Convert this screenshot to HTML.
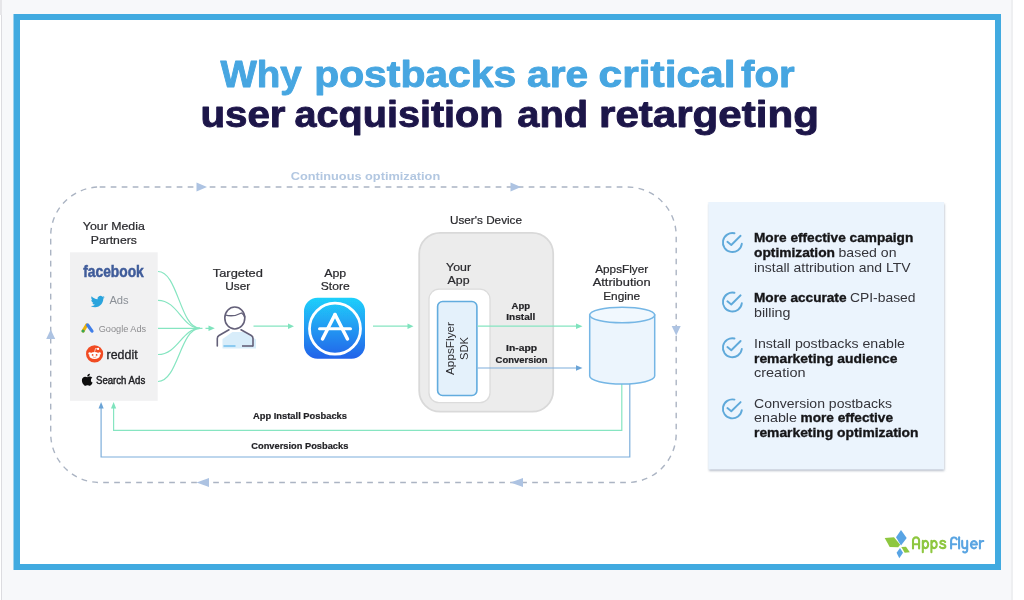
<!DOCTYPE html>
<html>
<head>
<meta charset="utf-8">
<title>Why postbacks are critical</title>
<style>
  html, body { margin: 0; padding: 0; }
  body { width: 1024px; height: 600px; overflow: hidden; background: #f7f8fa; font-family: "Liberation Sans", sans-serif; }
  svg { position: absolute; left: 0; top: 0; display: block; }
  text { font-family: "Liberation Sans", sans-serif; }
</style>
</head>
<body>
<svg width="1024" height="600" viewBox="0 0 1024 600">
  <defs>
    <linearGradient id="asg" x1="0" y1="0" x2="0" y2="1">
      <stop offset="0" stop-color="#1fd0fb"/>
      <stop offset="1" stop-color="#2262e9"/>
    </linearGradient>
    <filter id="soft" x="-5%" y="-5%" width="110%" height="110%">
      <feGaussianBlur stdDeviation="0.55"/>
    </filter>
    <filter id="pshadow" x="-5%" y="-5%" width="110%" height="112%">
      <feGaussianBlur stdDeviation="0.8"/>
    </filter>
  </defs>

  <!-- page chrome -->
  <rect x="0" y="0" width="1024" height="600" fill="#f7f8fa"/>
  <rect x="1013" y="0" width="11" height="600" fill="#ffffff"/>
  <rect x="1011" y="0" width="2" height="600" fill="#eeeff1"/>
  <rect x="0" y="0" width="2" height="15" fill="#e6e6e9"/>
  <rect x="0" y="15" width="1" height="585" fill="#ffffff"/>
  <rect x="1" y="15" width="1" height="585" fill="#dcdce0"/>

  <!-- slide frame -->
  <rect x="13.5" y="14" width="987.5" height="556" fill="#41aae0"/>
  <rect x="20" y="20" width="975" height="544" fill="#ffffff"/>

  <g filter="url(#soft)">
  <!-- TITLE -->
  <g id="title" font-weight="bold" font-size="36" stroke-width="0.9" stroke-linejoin="round">
    <text x="220.5" y="86.5" fill="#46a6e1" stroke="#46a6e1" textLength="81.3" lengthAdjust="spacingAndGlyphs">Why</text>
    <text x="314.2" y="86.5" fill="#46a6e1" stroke="#46a6e1" textLength="202" lengthAdjust="spacingAndGlyphs">postbacks</text>
    <text x="527.1" y="86.5" fill="#46a6e1" stroke="#46a6e1" textLength="61.0" lengthAdjust="spacingAndGlyphs">are</text>
    <text x="598.6" y="86.5" fill="#46a6e1" stroke="#46a6e1" textLength="136.9" lengthAdjust="spacingAndGlyphs">critical</text>
    <text x="741.1" y="86.5" fill="#46a6e1" stroke="#46a6e1" textLength="53.5" lengthAdjust="spacingAndGlyphs">for</text>
    <text x="200.4" y="127.3" fill="#1e1449" stroke="#1e1449" textLength="85.1" lengthAdjust="spacingAndGlyphs">user</text>
    <text x="294.5" y="127.3" fill="#1e1449" stroke="#1e1449" textLength="209.0" lengthAdjust="spacingAndGlyphs">acquisition</text>
    <text x="517.3" y="127.3" fill="#1e1449" stroke="#1e1449" textLength="70.8" lengthAdjust="spacingAndGlyphs">and</text>
    <text x="599.0" y="127.3" fill="#1e1449" stroke="#1e1449" textLength="219.9" lengthAdjust="spacingAndGlyphs">retargeting</text>
  </g>

  <!-- DIAGRAM -->
  <g id="diagram">
    <!-- dashed loop -->
    <rect x="50.7" y="187" width="625.5" height="295.5" rx="49" ry="49" fill="none" stroke="#abb4c3" stroke-width="1.4" stroke-dasharray="5.7 5.3"/>
    <text x="290.7" y="180" font-size="11" font-weight="bold" fill="#b2c7e1" textLength="149.5" lengthAdjust="spacingAndGlyphs">Continuous optimization</text>
    <!-- loop arrows -->
    <g fill="#adc3e2">
      <polygon points="196.5,182.5 207,187 196.5,191.5"/>
      <polygon points="510.5,182.5 521,187 510.5,191.5"/>
      <polygon points="209,478 196.5,482.5 209,487"/>
      <polygon points="523,478 510.5,482.5 523,487"/>
      <polygon points="46.2,339 50.7,329.5 55.2,339"/>
      <polygon points="671.7,326 676.2,335.5 680.7,326"/>
    </g>

    <!-- user's device -->
    <rect x="419.2" y="232.8" width="134" height="178.9" rx="21" ry="21" fill="#ececec" stroke="#d9d9d9" stroke-width="1.8"/>
    <rect x="429" y="289.2" width="61" height="113.5" rx="10" ry="10" fill="#ffffff" stroke="#dcdcdc" stroke-width="1.3"/>
    <rect x="437.6" y="301.5" width="39.3" height="94" rx="5" ry="5" fill="#e4f1fb" stroke="#62acde" stroke-width="1.6"/>

    <!-- media partners -->
    <g font-size="11.5" fill="#2a2a2e" stroke="#2a2a2e" stroke-width="0.22" text-anchor="middle">
      <text x="113.8" y="229.6" textLength="62" lengthAdjust="spacingAndGlyphs">Your Media</text>
      <text x="113.8" y="243.7" textLength="46" lengthAdjust="spacingAndGlyphs">Partners</text>
      <text x="237.8" y="276.5" textLength="50" lengthAdjust="spacingAndGlyphs">Targeted</text>
      <text x="237.8" y="289.8" textLength="25" lengthAdjust="spacingAndGlyphs">User</text>
      <text x="335.2" y="276.5" textLength="22" lengthAdjust="spacingAndGlyphs">App</text>
      <text x="335.2" y="289.8" textLength="29" lengthAdjust="spacingAndGlyphs">Store</text>
      <text x="486" y="223.6" textLength="72" lengthAdjust="spacingAndGlyphs">User's Device</text>
      <text x="458.6" y="271.3" textLength="25" lengthAdjust="spacingAndGlyphs">Your</text>
      <text x="458.6" y="284" textLength="22" lengthAdjust="spacingAndGlyphs">App</text>
      <text x="621.7" y="273" textLength="53" lengthAdjust="spacingAndGlyphs">AppsFlyer</text>
      <text x="621.7" y="286.2" textLength="58" lengthAdjust="spacingAndGlyphs">Attribution</text>
      <text x="621.7" y="299.5" textLength="37" lengthAdjust="spacingAndGlyphs">Engine</text>
    </g>

    <rect x="70" y="252.3" width="87.7" height="148.5" fill="#f1f1f2"/>

    <!-- facebook -->
    <text x="83.2" y="277.4" font-size="15.8" font-weight="bold" fill="#3f5b9a" stroke="#3f5b9a" stroke-width="0.5" textLength="60.6" lengthAdjust="spacingAndGlyphs">facebook</text>
    <!-- twitter -->
    <g transform="translate(90.7,294.5) scale(0.583)">
      <path fill="#2ba4dd" d="M23.953 4.57a10 10 0 01-2.825.775 4.958 4.958 0 002.163-2.723c-.951.555-2.005.959-3.127 1.184a4.92 4.92 0 00-8.384 4.482C7.69 8.095 4.067 6.13 1.64 3.162a4.822 4.822 0 00-.666 2.475c0 1.71.87 3.213 2.188 4.096a4.904 4.904 0 01-2.228-.616v.06a4.923 4.923 0 003.946 4.827 4.996 4.996 0 01-2.212.085 4.936 4.936 0 004.604 3.417 9.867 9.867 0 01-6.102 2.105c-.39 0-.779-.023-1.17-.067a13.995 13.995 0 007.557 2.209c9.053 0 13.998-7.496 13.998-13.985 0-.21 0-.42-.015-.63A9.935 9.935 0 0024 4.59z"/>
    </g>
    <text x="109.4" y="304" font-size="11.5" fill="#8b9097" textLength="19.3" lengthAdjust="spacingAndGlyphs">Ads</text>
    <!-- google ads -->
    <g>
      <path d="M86.7 325 L83.1 331" stroke="#e9b10a" stroke-width="3.2" stroke-linecap="round" fill="none"/>
      <circle cx="83.1" cy="331" r="1.6" fill="#34a853"/>
      <path d="M87.6 325 L92 331.1" stroke="#3f7ee8" stroke-width="3.2" stroke-linecap="round" fill="none"/>
    </g>
    <text x="98.7" y="331.5" font-size="9" fill="#8c8c8f" textLength="47.5" lengthAdjust="spacingAndGlyphs">Google Ads</text>
    <!-- reddit -->
    <g transform="translate(0.5,0.3)">
      <circle cx="94.1" cy="353.6" r="8.6" fill="#f14b24"/>
      <ellipse cx="94.1" cy="355.2" rx="5.3" ry="3.6" fill="#ffffff"/>
      <circle cx="89.2" cy="353.2" r="1.3" fill="#ffffff"/>
      <circle cx="99" cy="353.2" r="1.3" fill="#ffffff"/>
      <circle cx="97.6" cy="348.6" r="1.1" fill="#ffffff"/>
      <path d="M94.1 351.6 L95 348.2 L97.6 348.7" stroke="#ffffff" stroke-width="0.7" fill="none"/>
      <circle cx="92.1" cy="354.6" r="0.9" fill="#f14b24"/>
      <circle cx="96.1" cy="354.6" r="0.9" fill="#f14b24"/>
      <path d="M92.3 356.6 Q94.1 357.8 95.9 356.6" stroke="#f14b24" stroke-width="0.5" fill="none"/>
    </g>
    <text x="106.6" y="358.8" font-size="12.5" fill="#222226" stroke="#222226" stroke-width="0.3" textLength="31" lengthAdjust="spacingAndGlyphs">reddit</text>
    <!-- apple search ads -->
    <g transform="translate(81.9,373.7) scale(0.0132,0.0121)">
      <path fill="#0b0b0c" d="M788.1 340.9c-5.8 4.500-108.200 62.200-108.200 190.500 0 148.400 130.300 200.900 134.200 202.200-0.600 3.200-20.700 71.900-68.700 141.900-42.800 61.600-87.500 123.100-155.500 123.100s-85.500-39.500-164-39.500c-76.500 0-103.700 40.800-165.900 40.800s-105.600-57-155.500-127c-57.800-82.200-104.500-209.900-104.500-331.100 0-194.400 126.400-297.500 250.800-297.500 66.100 0 121.200 43.400 162.700 43.400 39.500 0 101.100-46 176.300-46 28.500 0 130.900 2.600 198.300 99.200zM554.100 159.400c31.100-36.900 53.100-88.100 53.100-139.300 0-7.100-0.600-14.300-1.900-20.100-50.600 1.900-110.800 33.700-147.100 75.800-28.500 32.400-55.100 83.600-55.100 135.500 0 7.800 1.300 15.600 1.900 18.100 3.200 0.600 8.400 1.300 13.600 1.300 45.400 0 102.500-30.400 135.500-71.300z"/>
    </g>
    <text x="96" y="384" font-size="10" fill="#202024" stroke="#202024" stroke-width="0.4" textLength="49.2" lengthAdjust="spacingAndGlyphs">Search Ads</text>

    <!-- green fan-in curves -->
    <g fill="none" stroke="#86e5c1" stroke-width="1.2">
      <path d="M158 271.5 C 178 271.5, 180 328.3, 200 328.3"/>
      <path d="M158 300.3 C 178 300.3, 182 328.3, 200 328.3"/>
      <path d="M158 328.3 L 202.5 328.3 M205.5 328.3 L 209 328.3"/>
      <path d="M158 354.5 C 178 354.5, 182 328.3, 200 328.3"/>
      <path d="M158 381.5 C 178 381.5, 180 328.3, 200 328.3"/>
      <path d="M253.5 326.2 L 290 326.2"/>
      <path d="M373 326.2 L 410 326.2"/>
      <path d="M477.5 326.2 L 578 326.2"/>
      <path d="M621.8 384 L 621.8 430.3 L 113.6 430.3 L 113.6 407"/>
    </g>
    <g fill="#7fe3bd">
      <polygon points="208.5,325.6 214.8,328.3 208.5,331"/>
      <polygon points="288,323.5 294,326.2 288,328.9"/>
      <polygon points="407.5,323.5 413.5,326.2 407.5,328.9"/>
      <polygon points="576,323.5 582.5,326.2 576,328.9"/>
      <polygon points="111,408.5 113.6,402 116.2,408.5"/>
    </g>
    <!-- blue lines -->
    <g fill="none" stroke="#7eaedb" stroke-width="1.2">
      <path d="M477.5 368 L 578 368"/>
      <path d="M629.8 383.5 L 629.8 457 L 101.1 457 L 101.1 407"/>
    </g>
    <g fill="#6aa3d6">
      <polygon points="576,365.3 582.5,368 576,370.7"/>
      <polygon points="98.5,408.5 101.1,402 103.7,408.5"/>
    </g>

    <!-- user icon -->
    <g>
      <path d="M222.5 348.5 L222.5 339 L232.5 332 L244 332 L256 339.5 L256 348.5 Z" fill="#d8edfa"/>
      <ellipse cx="234.8" cy="318" rx="10" ry="11" fill="#ffffff" stroke="#646079" stroke-width="1.6"/>
      <path d="M225 314.8 Q 233 317.5 241.5 313 Q 244 314.5 245 317.5" fill="none" stroke="#646079" stroke-width="1.4"/>
      <path d="M217.3 346 L217.3 338.5 Q217.3 336.5 219 335.5 L229 329.8" fill="none" stroke="#646079" stroke-width="1.6" stroke-linecap="round"/>
      <path d="M253 346 L253 338.5 Q253 336.5 251.3 335.5 L241 329.8" fill="none" stroke="#646079" stroke-width="1.6" stroke-linecap="round"/>
      <path d="M223.5 346 L235.5 346" stroke="#7ec3ee" stroke-width="1.7" fill="none"/>
      <path d="M242 346 L253 346" stroke="#646079" stroke-width="1.6" fill="none"/>
    </g>

    <!-- app store icon -->
    <g>
      <rect x="304" y="297.8" width="61" height="61" rx="13.5" ry="13.5" fill="url(#asg)"/>
      <circle cx="335" cy="328.7" r="25.5" fill="none" stroke="#ffffff" stroke-width="2.8"/>
      <g stroke="#ffffff" stroke-width="3.5" stroke-linecap="round" fill="none">
        <path d="M335 314.5 L322.5 339"/>
        <path d="M335 314.5 L347.5 339"/>
        <path d="M319.5 328.7 L350.5 328.7" stroke-width="3"/>
      </g>
    </g>

    <!-- device labels -->
    <g font-size="11.5" fill="#2a2a2e" text-anchor="middle">
      <text transform="translate(453.8,348.5) rotate(-90)" textLength="53" lengthAdjust="spacingAndGlyphs">AppsFlyer</text>
      <text transform="translate(468,348.5) rotate(-90)" textLength="23" lengthAdjust="spacingAndGlyphs">SDK</text>
    </g>
    <g font-size="9.2" font-weight="bold" fill="#222226" stroke="#222226" stroke-width="0.2" text-anchor="middle">
      <text x="520.8" y="308.7" textLength="18.5" lengthAdjust="spacingAndGlyphs">App</text>
      <text x="520.8" y="319.6" textLength="29" lengthAdjust="spacingAndGlyphs">Install</text>
      <text x="521.6" y="351.2" textLength="31" lengthAdjust="spacingAndGlyphs">In-app</text>
      <text x="521.6" y="362.5" textLength="52" lengthAdjust="spacingAndGlyphs">Conversion</text>
      <text x="300" y="418.9" textLength="94" lengthAdjust="spacingAndGlyphs">App Install Posbacks</text>
      <text x="299.8" y="448.5" textLength="97" lengthAdjust="spacingAndGlyphs">Conversion Posbacks</text>
    </g>

    <!-- cylinder -->
    <g stroke="#74b6e5" stroke-width="1.5">
      <path d="M589.7 315 L589.7 376 A32.5 8 0 0 0 654.7 376 L654.7 315 Z" fill="#ecf5fd"/>
      <ellipse cx="622.2" cy="315" rx="32.5" ry="7.8" fill="#f1f8fe"/>
    </g>
  </g>

  <!-- RIGHT PANEL -->
  <g id="panel">
    <rect x="709" y="204" width="235.3" height="266.8" fill="#aeb6c2" filter="url(#pshadow)"/>
    <rect x="708.3" y="202" width="235.7" height="267.5" fill="#ebf4fd"/>
    <g fill="none" stroke="#5fa9da" stroke-width="1.9" stroke-linecap="round" stroke-linejoin="round">
      <g id="chk">
        <path d="M734.5 233.3 A9.5 9.5 0 1 0 741.8 243.8"/>
        <path d="M727.4 241.8 L731.3 245 L740.6 235.8"/>
      </g>
      <use href="#chk" y="59.5"/>
      <use href="#chk" y="105.2"/>
      <use href="#chk" y="166.3"/>
    </g>
    <g font-size="13" fill="#34343a">
      <text x="754" y="242" font-weight="bold" fill="#141418" stroke="#141418" stroke-width="0.35" textLength="159.3" lengthAdjust="spacingAndGlyphs">More effective campaign</text>
      <text x="754" y="256.8"><tspan font-weight="bold" fill="#141418" stroke="#141418" stroke-width="0.35" textLength="81" lengthAdjust="spacingAndGlyphs">optimization</tspan><tspan dx="3.5" textLength="58" lengthAdjust="spacingAndGlyphs">based on</tspan></text>
      <text x="754" y="272" textLength="156.5" lengthAdjust="spacingAndGlyphs">install attribution and LTV</text>

      <text x="754" y="302"><tspan font-weight="bold" fill="#141418" stroke="#141418" stroke-width="0.35" textLength="92.5" lengthAdjust="spacingAndGlyphs">More accurate</tspan><tspan dx="3.5" textLength="65.5" lengthAdjust="spacingAndGlyphs">CPI-based</tspan></text>
      <text x="754" y="317.3" textLength="36.5" lengthAdjust="spacingAndGlyphs">billing</text>

      <text x="754" y="347.5" textLength="151" lengthAdjust="spacingAndGlyphs">Install postbacks enable</text>
      <text x="754" y="362.6" font-weight="bold" fill="#141418" stroke="#141418" stroke-width="0.35" textLength="143.5" lengthAdjust="spacingAndGlyphs">remarketing audience</text>
      <text x="754" y="377" textLength="51.5" lengthAdjust="spacingAndGlyphs">creation</text>

      <text x="754" y="408" textLength="138" lengthAdjust="spacingAndGlyphs">Conversion postbacks</text>
      <text x="754" y="422.3"><tspan textLength="43" lengthAdjust="spacingAndGlyphs">enable</tspan><tspan dx="3.5" font-weight="bold" fill="#141418" stroke="#141418" stroke-width="0.35" textLength="92.5" lengthAdjust="spacingAndGlyphs">more effective</tspan></text>
      <text x="754" y="437.4" font-weight="bold" fill="#141418" stroke="#141418" stroke-width="0.35" textLength="164.5" lengthAdjust="spacingAndGlyphs">remarketing optimization</text>
    </g>
  </g>

  <!-- APPSFLYER LOGO -->
  <g id="logo">
    <polygon points="884.7,538 894,537.3 900.2,544.7 898.2,547.2 889.7,547" fill="#8ec73f"/>
    <polygon points="901,530 906.7,538 901,545.5 896,537.3" fill="#58a4e4"/>
    <polygon points="901.3,547 906,546.8 909.8,552.3 904.7,552.8" fill="#8ec73f"/>
    <polygon points="900,548 903,552.7 899.3,558.3 896.6,552.7" fill="#58a4e4"/>
    <g fill="none" stroke-width="2.1" stroke-linecap="round" stroke-linejoin="round">
      <g stroke="#8ec73f">
        <path d="M913 548.4 V540.6 A3.05 3.2 0 0 1 919.1 540.6 V548.4 M913 544.3 H919.1"/>
        <path d="M922.8 540.9 V552.3 M922.8 544.4 A2.7 3.6 0 1 1 922.8 544.5"/>
        <path d="M931.4 540.9 V552.3 M931.4 544.4 A2.7 3.6 0 1 1 931.4 544.5"/>
        <path d="M945.2 542 C944.4 540.4 940.5 540.3 940.4 542.5 C940.3 544.7 945.5 544 945.4 546.4 C945.3 548.6 940.9 548.6 940 546.9"/>
      </g>
      <g stroke="#5aa5e2">
        <path d="M951.1 548.4 V540.6 A3 3.2 0 0 1 956.8 539.3 M951.1 544.3 H956.2"/>
        <path d="M959.1 537.2 V548.4"/>
        <path d="M962.2 540.9 V545.6 A2.5 2.6 0 0 0 967.2 545.6 V540.9 M967.2 545.6 V550 A2.3 2.3 0 0 1 963.2 551.7"/>
        <path d="M971 544.5 H977 A3.05 3.6 0 1 0 976 547.4"/>
        <path d="M979.9 540.9 V548.4 M979.9 543.6 A3 3 0 0 1 983.3 541"/>
      </g>
    </g>
  </g>
  </g>
</svg>
</body>
</html>
